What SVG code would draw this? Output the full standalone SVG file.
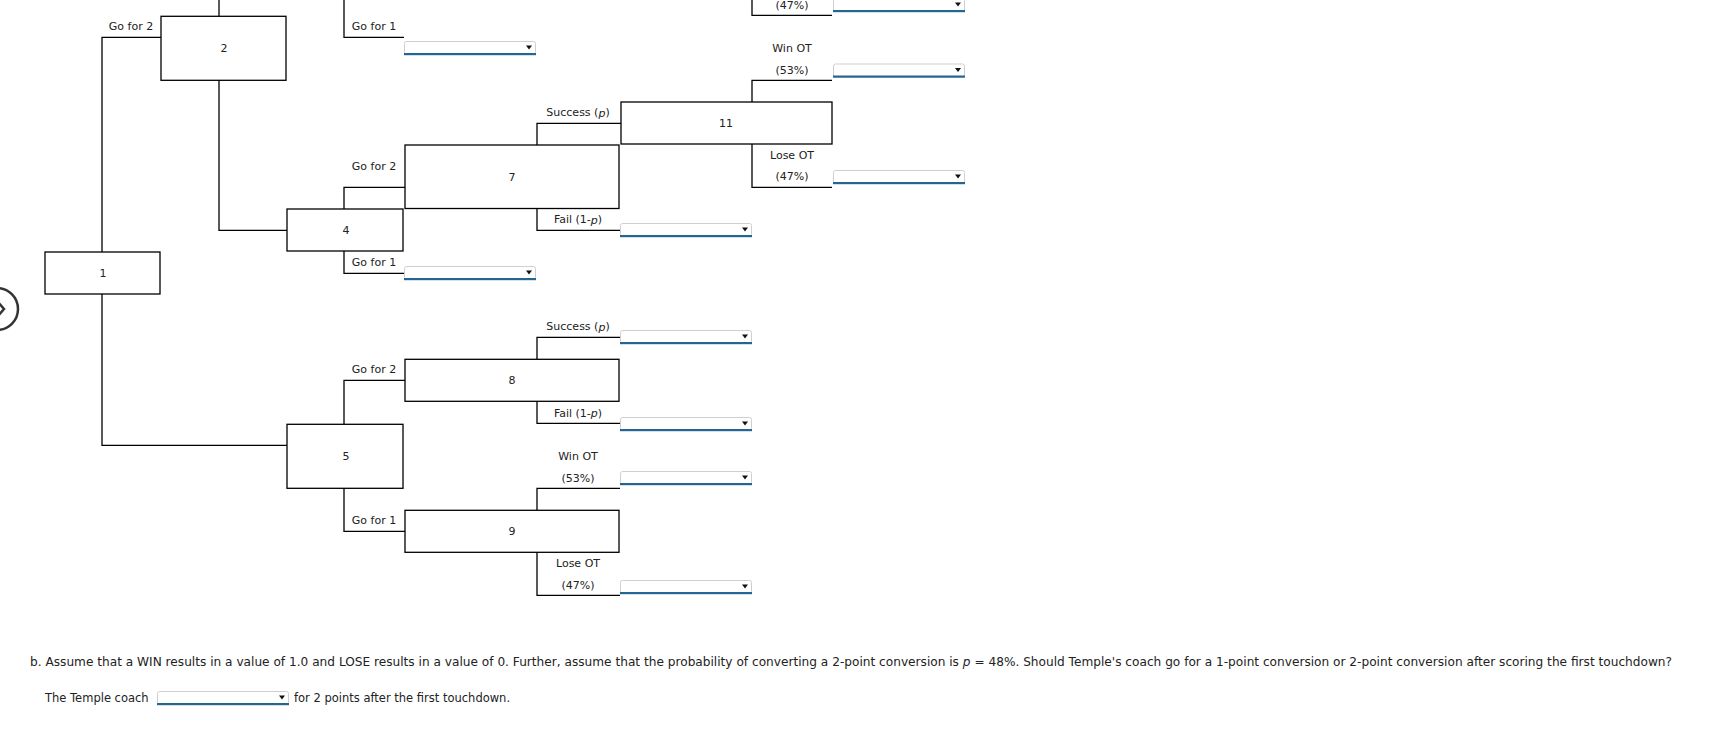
<svg xmlns="http://www.w3.org/2000/svg" xmlns:xlink="http://www.w3.org/1999/xlink" width="1730" height="738" viewBox="0 0 1730 738">
<style>
.box{fill:#fff;stroke:#000;stroke-width:1.3}
.ln{fill:none;stroke:#000;stroke-width:1.3}
.t{font-family:"DejaVu Sans",Verdana,sans-serif;font-size:11px;fill:#222;text-anchor:middle;dominant-baseline:central}
.p{font-family:"DejaVu Sans",Verdana,sans-serif;font-size:11.5px;fill:#222;dominant-baseline:central}
</style>
<defs>
<g id="dd">
<rect x="0.5" y="0.5" width="131" height="13" rx="2" fill="#fff" stroke="#cfcfcf"/>
<rect x="0" y="12" width="132" height="2.2" fill="#256592"/>
<path d="M122 4.5h6l-3 4z" fill="#111"/>
</g>
</defs>
<g id="icon"><circle cx="-3" cy="309" r="21" fill="none" stroke="#333" stroke-width="2.5"/><path d="M-3 301l7 8-7 8" fill="none" stroke="#333" stroke-width="2.5"/></g>
<g id="connectors">
<path class="ln" d="M102 252V37.3H161"/>
<path class="ln" d="M219 16V0"/>
<path class="ln" d="M344 0V37.3H404"/>
<path class="ln" d="M219 80V230.3H287"/>
<path class="ln" d="M344 209V187.3H405"/>
<path class="ln" d="M344 251V273.3H404"/>
<path class="ln" d="M537 145V123.3H621"/>
<path class="ln" d="M537 208V230.3H620"/>
<path class="ln" d="M752 102V80.3H832"/>
<path class="ln" d="M752 144V187.3H832"/>
<path class="ln" d="M752 0V15.3H832"/>
<path class="ln" d="M102 294V445.3H287"/>
<path class="ln" d="M344 424V380.3H405"/>
<path class="ln" d="M344 488V531.3H405"/>
<path class="ln" d="M537 359V337.3H620"/>
<path class="ln" d="M537 401V423.3H620"/>
<path class="ln" d="M537 510V488.3H620"/>
<path class="ln" d="M537 552V595.3H620"/>
</g>
<g id="labels">
<text class="t" x="131" y="26.5">Go for 2</text>
<text class="t" x="374" y="26.5">Go for 1</text>
<text class="t" x="374" y="166.5">Go for 2</text>
<text class="t" x="374" y="262.5">Go for 1</text>
<text class="t" x="578" y="112.5">Success (<tspan font-style="italic">p</tspan>)</text>
<text class="t" x="578" y="219.5">Fail (1-<tspan font-style="italic">p</tspan>)</text>
<text class="t" x="792" y="5">(47%)</text>
<text class="t" x="792" y="48.5">Win OT</text>
<text class="t" x="792" y="70">(53%)</text>
<text class="t" x="792" y="155.5">Lose OT</text>
<text class="t" x="792" y="176.5">(47%)</text>
<text class="t" x="374" y="369.5">Go for 2</text>
<text class="t" x="374" y="520.5">Go for 1</text>
<text class="t" x="578" y="326.5">Success (<tspan font-style="italic">p</tspan>)</text>
<text class="t" x="578" y="413">Fail (1-<tspan font-style="italic">p</tspan>)</text>
<text class="t" x="578" y="456.5">Win OT</text>
<text class="t" x="578" y="478">(53%)</text>
<text class="t" x="578" y="563.5">Lose OT</text>
<text class="t" x="578" y="585">(47%)</text>
</g>
<g id="n1"><rect class="box" x="45" y="252" width="115" height="42"/><text class="t" x="103" y="273">1</text></g>
<g id="n2"><rect class="box" x="161" y="16.3" width="125" height="64"/><text class="t" x="224" y="48">2</text></g>
<g id="n4"><rect class="box" x="287" y="209" width="116" height="42"/><text class="t" x="346" y="230">4</text></g>
<g id="n5"><rect class="box" x="287" y="424.3" width="116" height="64"/><text class="t" x="346" y="456">5</text></g>
<g id="n7"><rect class="box" x="405" y="145" width="214" height="63.5"/><text class="t" x="512" y="177">7</text></g>
<g id="n8"><rect class="box" x="405" y="359.3" width="214" height="42"/><text class="t" x="512" y="380.5">8</text></g>
<g id="n9"><rect class="box" x="405" y="510.3" width="214" height="42"/><text class="t" x="512" y="531.5">9</text></g>
<g id="n11"><rect class="box" x="621" y="102" width="211" height="42"/><text class="t" x="726" y="123">11</text></g>
<g id="dropdowns">
<use xlink:href="#dd" x="404" y="41"/>
<use xlink:href="#dd" x="404" y="266"/>
<use xlink:href="#dd" x="620" y="223"/>
<use xlink:href="#dd" x="833" y="-2"/>
<use xlink:href="#dd" x="833" y="63.5"/>
<use xlink:href="#dd" x="833" y="170"/>
<use xlink:href="#dd" x="620" y="330"/>
<use xlink:href="#dd" x="620" y="417"/>
<use xlink:href="#dd" x="620" y="471"/>
<use xlink:href="#dd" x="620" y="580"/>
<use xlink:href="#dd" x="157" y="691"/>
</g>
<g id="question">
<text class="p" x="30" y="662" textLength="1642" lengthAdjust="spacingAndGlyphs">b. Assume that a WIN results in a value of 1.0 and LOSE results in a value of 0. Further, assume that the probability of converting a 2-point conversion is <tspan font-style="italic">p</tspan> = 48%. Should Temple's coach go for a 1-point conversion or 2-point conversion after scoring the first touchdown?</text>
<text class="p" x="45" y="698">The Temple coach</text>
<text class="p" x="294" y="698">for 2 points after the first touchdown.</text>
</g>
</svg>
